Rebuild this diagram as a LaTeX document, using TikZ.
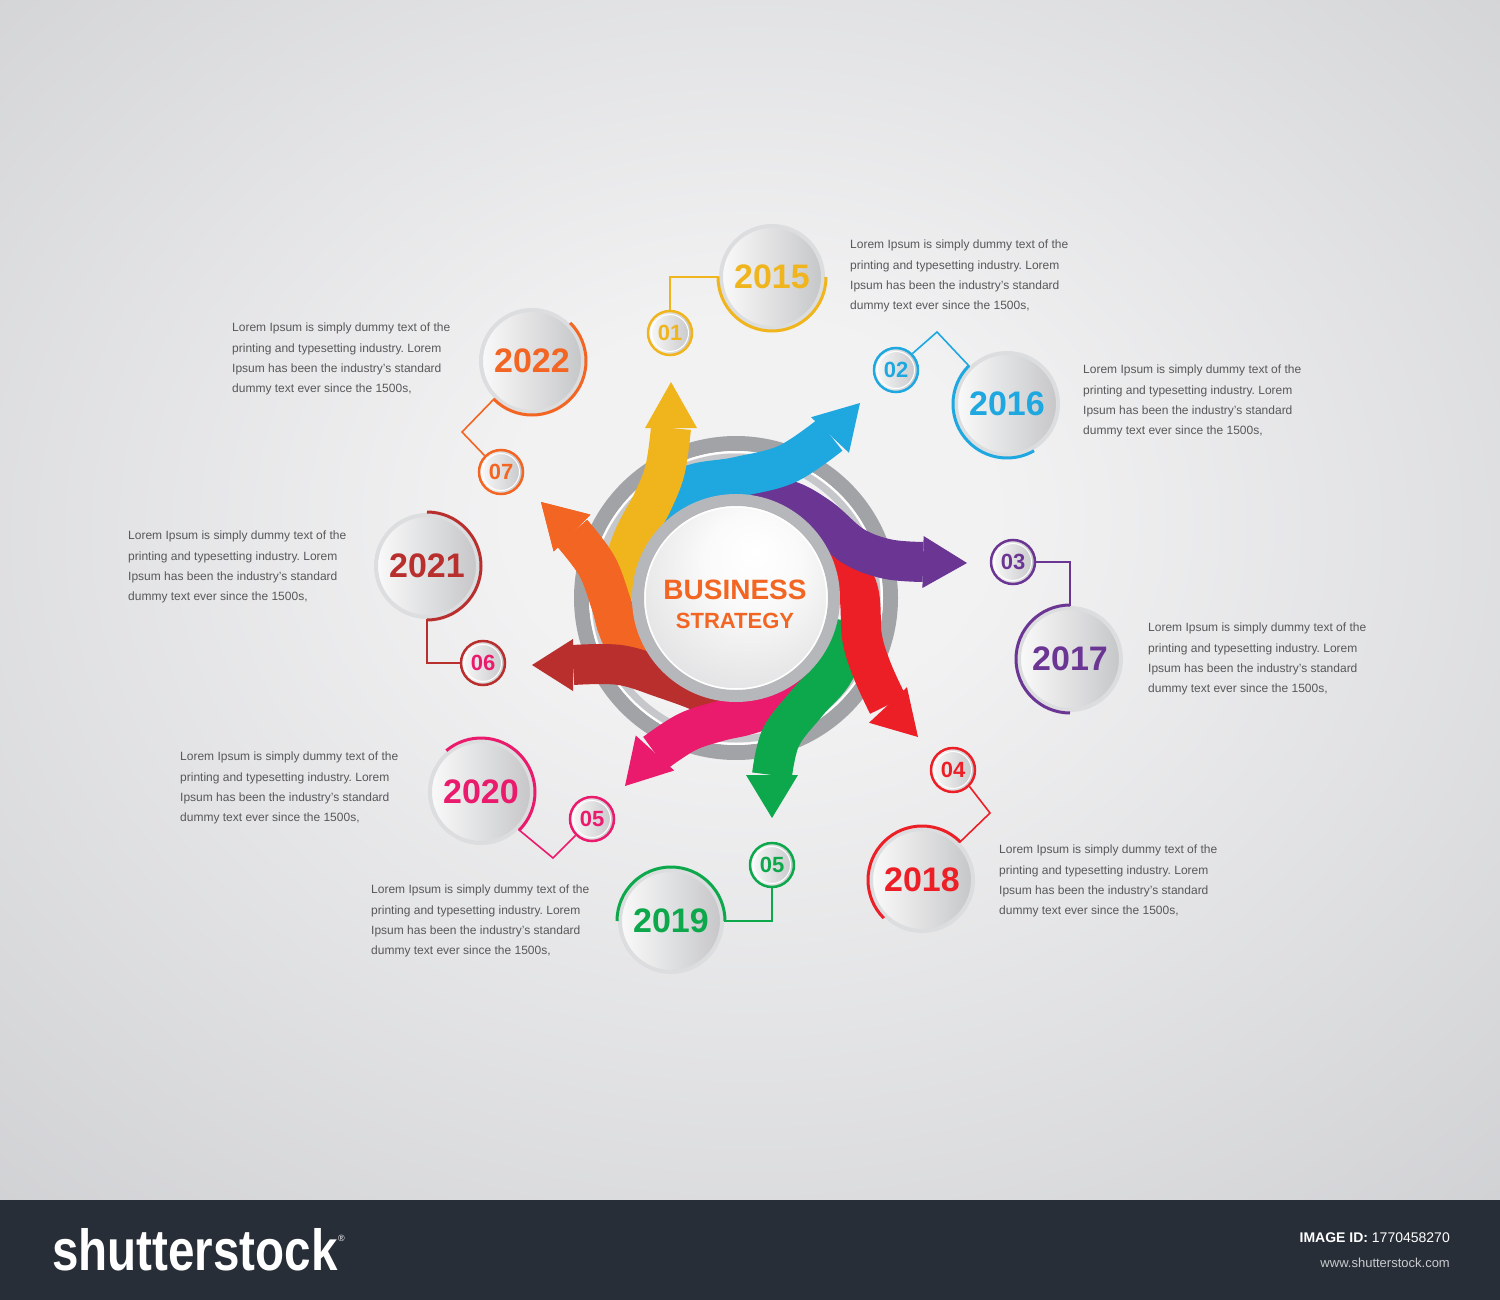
\documentclass[tikz,border=0pt]{standalone}
\usepackage{fontspec}
\usepackage{graphicx}
\setmainfont{Liberation Sans}
\usetikzlibrary{calc}
\frenchspacing
\definecolor{cY}{HTML}{F0B51D}
\definecolor{cB}{HTML}{1FA7E0}
\definecolor{cP}{HTML}{6B3594}
\definecolor{cR}{HTML}{EC1F27}
\definecolor{cG}{HTML}{0DA84B}
\definecolor{cK}{HTML}{EA1A6C}
\definecolor{cD}{HTML}{B82F2E}
\definecolor{cO}{HTML}{F26522}
\definecolor{bgin}{HTML}{F2F2F3}
\definecolor{bgout}{HTML}{C9CACD}
\definecolor{ringgray}{HTML}{A2A3A6}
\definecolor{ringlight}{HTML}{C6C7CA}
\definecolor{hubrim}{HTML}{B6B7BA}
\definecolor{bodytext}{HTML}{58585A}
\definecolor{footer}{HTML}{282E38}
\definecolor{silverA}{HTML}{FAFAFA}
\definecolor{silverB}{HTML}{BBBCBF}
\definecolor{rim}{HTML}{DCDDDF}
\pgfdeclarehorizontalshading{silverh}{100bp}{color(0bp)=(silverA); color(25bp)=(silverA); color(85bp)=(silverB); color(100bp)=(silverB)}
\pgfdeclareradialshading{hubshade}{\pgfpoint{5bp}{12bp}}{color(0bp)=(white); color(12bp)=(silverA); color(62bp)=(silverB)}
\pgfdeclareradialshading{bgshade}{\pgfpoint{0bp}{4bp}}{color(0bp)=(bgin); color(8bp)=(bgin); color(44bp)=(bgout); color(75bp)=(bgout)}
\newcommand{\flowarrow}[4]{%
  \draw[shaft,#1] plot[smooth, tension=0.6] coordinates {#4};
  \fill[#1] (#2) -- ($(#3)!26pt!90:(#2)$) -- ($(#3)!26pt!-90:(#2)$) -- cycle;
}
\newcommand{\lorem}{Lorem Ipsum is simply dummy text of the\\printing and typesetting industry. Lorem\\Ipsum has been the industry's standard\\dummy text ever since the 1500s,}
\begin{document}
\begin{tikzpicture}[x=1pt,y=-1pt,
  yearc/.style={circle, minimum size=102pt, inner sep=0pt, draw=rim, line width=4pt, shade, shading=silverh, font=\fontsize{34}{34}\selectfont\bfseries},
  numc/.style={circle, minimum size=44pt, inner sep=0pt, line width=2.5pt, shade, shading=silverh, font=\fontsize{22}{22}\selectfont\bfseries},
  yeararc/.style={line width=3pt},
  conn/.style={line width=1.6pt},
  shaft/.style={line width=40pt, line cap=butt},
  body/.style={anchor=north west, align=left, inner sep=0pt, text=bodytext, font=\fontsize{12}{20.3}\selectfont},
]
\useasboundingbox (0,0) rectangle (1500,1300);
\shade[shading=bgshade] (0,0) rectangle (1500,1200);
\fill[footer] (0,1200) rectangle (1500,1300);

% outer ring
\coordinate (ctr) at (736,598);
\draw[ringgray, line width=15pt] (ctr) circle[radius=154.5pt];
\draw[white, line width=2pt] (ctr) circle[radius=146pt];
\draw[ringlight, line width=7pt] (ctr) circle[radius=141pt];

% arrows
\coordinate (oT) at (541,502); \coordinate (oB) at (572,533);
\coordinate (dT) at (532,665); \coordinate (dB) at (573,665);
\coordinate (kT) at (625,786); \coordinate (kB) at (655,753);
\coordinate (gT) at (772,818); \coordinate (gB) at (772,775);
\coordinate (rT) at (918,737); \coordinate (rB) at (888,705);
\coordinate (pT) at (967,563); \coordinate (pB) at (923,562);
\coordinate (bT) at (860,403); \coordinate (bB) at (830,435);
\coordinate (yT) at (671,382); \coordinate (yB) at (671,428);
\flowarrow{cO}{oT}{oB}{(648,668) (622,637) (611,603) (597,566) (572,533)}
\flowarrow{cD}{dT}{dB}{(735,716) (707,695) (663,678) (620,665) (573,665)}
\flowarrow{cK}{kT}{kB}{(815,690) (753,713) (720,721) (687,732) (655,753)}
\flowarrow{cG}{gT}{gB}{(850,622) (835,670) (807,703) (781,737) (772,775)}
\flowarrow{cR}{rT}{rB}{(828,545) (857,587) (862,637) (872,670) (888,705)}
\flowarrow{cP}{pT}{pB}{(750,497) (787,500) (820,518) (853,546) (887,559) (923,562)}
\flowarrow{cB}{bT}{bB}{(655,520) (687,487) (737,477) (787,464) (830,435)}
\flowarrow{cY}{yT}{yB}{(612,595) (634,537) (652,503) (665,470) (671,428)}
\begin{scope}
\clip (520,480) rectangle (660,632);
\flowarrow{cO}{oT}{oB}{(648,668) (622,637) (611,603) (597,566) (572,533)}
\end{scope}

% hub
\node[circle, minimum size=196pt, inner sep=0pt, draw=hubrim, line width=12pt, shade, shading=hubshade] (hub) at (ctr) {};
\draw[white, line width=1.5pt] (hub.center) circle[radius=91pt];
\node[text=cO, font=\fontsize{28}{28}\selectfont\bfseries] (biz) at (735,590) {BUSINESS};
\node[text=cO, font=\fontsize{22}{22}\selectfont\bfseries] (strat) at (735,621) {STRATEGY};

% year circles
\node[yearc, text=cY] (y15) at (772,277) {2015};
\node[yearc, text=cB] (y16) at (1007,404) {2016};
\node[yearc, text=cP] (y17) at (1070,659) {2017};
\node[yearc, text=cR] (y18) at (922,880) {2018};
\node[yearc, text=cG] (y19) at (671,921) {2019};
\node[yearc, text=cK] (y20) at (481,792) {2020};
\node[yearc, text=cD] (y21) at (427,566) {2021};
\node[yearc, text=cO] (y22) at (532,361) {2022};

\draw[yeararc, cY] ($(y15.center)+(180:54pt)$) arc[start angle=180, end angle=360, radius=54pt];
\draw[yeararc, cB] ($(y16.center)+(135:54pt)$) arc[start angle=135, end angle=300, radius=54pt];
\draw[yeararc, cP] ($(y17.center)+(90:54pt)$) arc[start angle=90, end angle=270, radius=54pt];
\draw[yeararc, cR] ($(y18.center)+(45:54pt)$) arc[start angle=45, end angle=225, radius=54pt];
\draw[yeararc, cG] ($(y19.center)+(0:54pt)$) arc[start angle=0, end angle=180, radius=54pt];
\draw[yeararc, cK] ($(y20.center)+(-45:54pt)$) arc[start angle=-45, end angle=130, radius=54pt];
\draw[yeararc, cD] ($(y21.center)+(-90:54pt)$) arc[start angle=-90, end angle=90, radius=54pt];
\draw[yeararc, cO] ($(y22.center)+(-135:54pt)$) arc[start angle=-135, end angle=45, radius=54pt];

% number circles
\node[numc, draw=cY, text=cY] (n01) at (670,333) {01};
\node[numc, draw=cB, text=cB] (n02) at (896,370) {02};
\node[numc, draw=cP, text=cP] (n03) at (1013,562) {03};
\node[numc, draw=cR, text=cR] (n04) at (953,770) {04};
\node[numc, draw=cG, text=cG] (n05g) at (772,865) {05};
\node[numc, draw=cK, text=cK] (n05k) at (592,819) {05};
\node[numc, draw=cD, text=cK] (n06) at (483,663) {06};
\node[numc, draw=cO, text=cO] (n07) at (501,472) {07};
\foreach \n in {n01,n02,n03,n04,n05g,n05k,n06,n07}
  \draw[white, line width=1pt] (\n.center) circle[radius=18.5pt];

% connectors
\coordinate (k02) at (937,332);
\coordinate (k04) at (990,813);
\coordinate (k05) at (553,858);
\coordinate (k07) at (462,432);
\draw[conn, cY] (n01.north) |- (y15.west);
\draw[conn, cB] (n02.45) -- (k02) -- (y16.135);
\draw[conn, cP] (n03.east) -| (y17.north);
\draw[conn, cR] (n04.-45) -- (k04) -- (y18.45);
\draw[conn, cG] (n05g.south) |- (y19.east);
\draw[conn, cK] (y20.-45) -- (k05) -- (n05k.225);
\draw[conn, cD] (y21.south) |- (n06.west);
\draw[conn, cO] (y22.225) -- (k07) -- (n07.135);

% text blocks
\node[body] (t15) at (850,240) {\lorem};
\node[body] (t16) at (1083,365) {\lorem};
\node[body] (t17) at (1148,623) {\lorem};
\node[body] (t18) at (999,845) {\lorem};
\node[body] (t19) at (371,885) {\lorem};
\node[body] (t20) at (180,752) {\lorem};
\node[body] (t21) at (128,531) {\lorem};
\node[body] (t22) at (232,323) {\lorem};

% footer
\node[anchor=base west, inner sep=0pt, text=white, font=\fontsize{58}{58}\selectfont\bfseries] (logo) at (52,1270) {\scalebox{0.82}[1]{shutterstock}};
\node[anchor=south west, inner sep=0pt, text=white, font=\fontsize{9}{9}\selectfont] (reg) at ([yshift=-14pt]logo.north east) {®};
\node[anchor=east, inner sep=0pt, text=white, font=\fontsize{14}{14}\selectfont] (imgid) at (1450,1238) {\textbf{IMAGE ID:} 1770458270};
\node[anchor=east, inner sep=0pt, text=white!75!footer, font=\fontsize{13}{13}\selectfont] (url) at (1450,1263) {www.shutterstock.com};
\end{tikzpicture}
\end{document}
